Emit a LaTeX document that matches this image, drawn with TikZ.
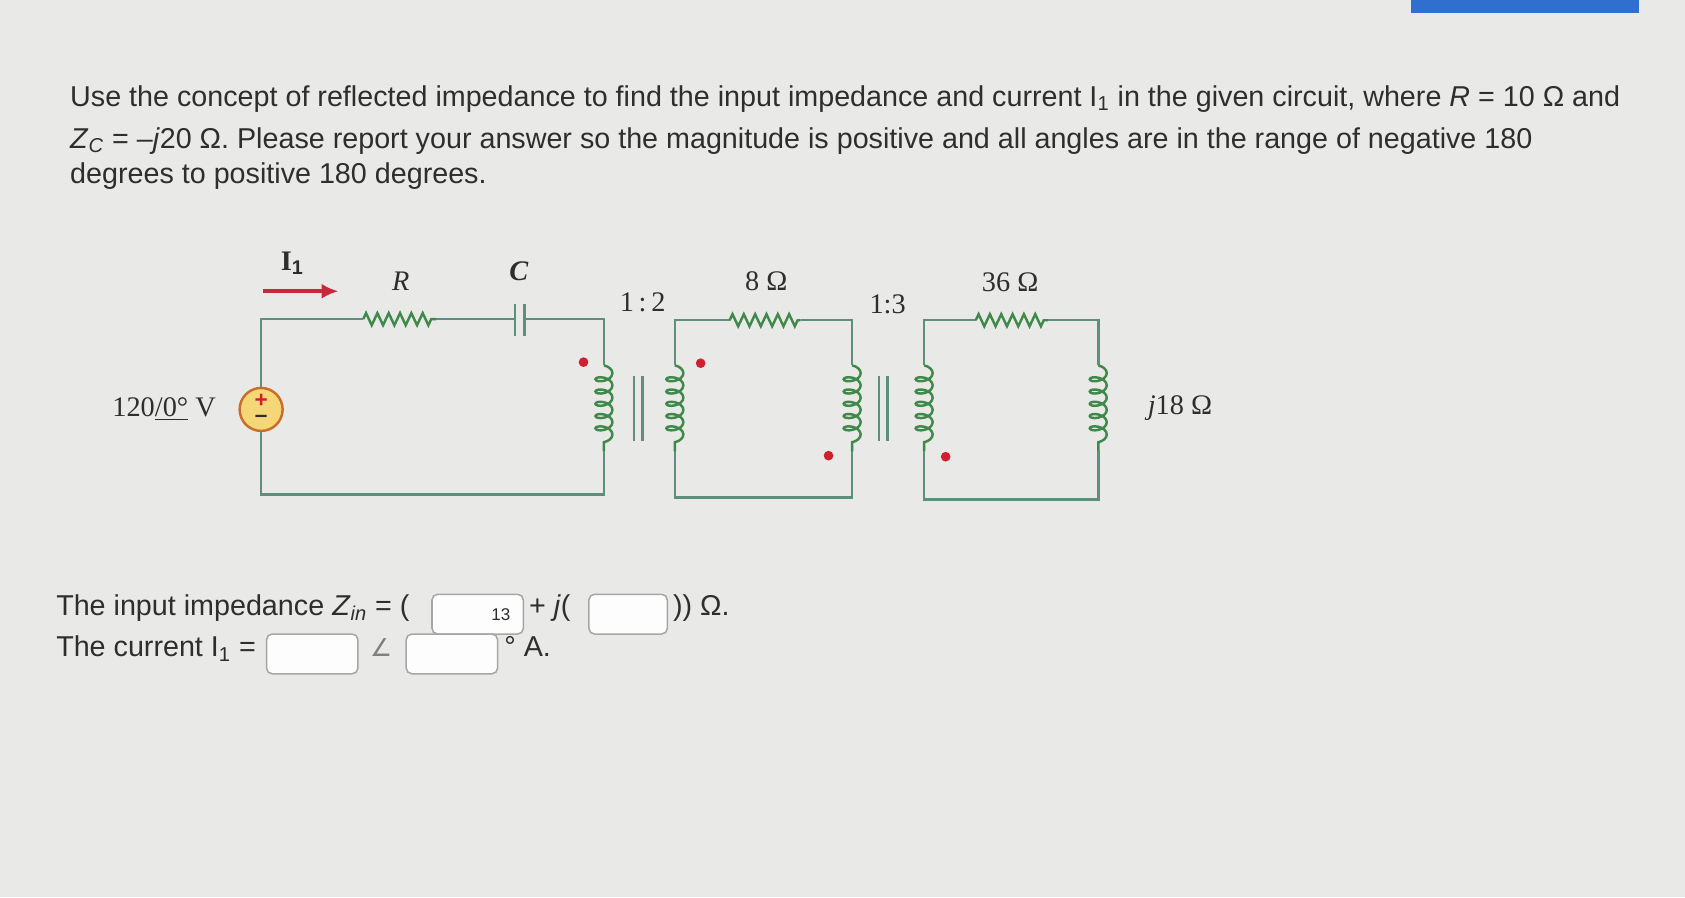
\documentclass[tikz,border=0pt]{standalone}
\usepackage{fontspec}
\setmainfont{Liberation Sans}
\newfontfamily\serifc{Liberation Serif}
\newfontfamily\djv{DejaVu Sans}
\usetikzlibrary{decorations.pathmorphing,arrows.meta}
\definecolor{bg}{HTML}{E9E9E7}
\definecolor{wire}{HTML}{5E8F7E}
\definecolor{grn}{HTML}{3F8A4A}
\definecolor{txt}{HTML}{2E2E2E}
\definecolor{dotc}{HTML}{D0202E}
\definecolor{barc}{HTML}{2F6FD0}
\definecolor{arrc}{HTML}{C8283C}
\definecolor{srcd}{HTML}{C86E28}
\definecolor{srcf}{HTML}{F5D778}
\tikzset{
 w/.style={draw=wire,line width=1.3pt},
 res/.style={draw=grn,line width=1.3pt,decorate,decoration={zigzag,segment length=6,amplitude=3.2}},
 ind/.style={draw=grn,line width=1.3pt,decorate,decoration={coil,aspect=0.55,segment length=6.5,amplitude=4.5}},
 dotm/.style={circle,fill=dotc,inner sep=0pt,minimum size=0.18cm},
 lab/.style={font=\serifc\fontsize{15}{18}\selectfont,text=txt},
 qt/.style={font=\fontsize{15.2}{18}\selectfont,text=txt,anchor=base west,inner sep=0pt},
 abox/.style={draw=gray!70,line width=0.8pt,rounded corners=3,fill=white!92!bg}
}
\begin{document}
\begin{tikzpicture}[x=0.02cm,y=-0.02cm]
\fill[bg] (0,0) rectangle (1568,835);
\useasboundingbox (0,0) rectangle (1568,835);
\fill[barc] (1313,0) rectangle (1525,12);
% question text
\node[qt] (q1) at (65,99) {Use the concept of reflected impedance to find the input impedance and current I\textsubscript{1} in the given circuit, where \textit{R} = 10 Ω and};
\node[qt] (q2) at (65,138) {\textit{Z}\textsubscript{\textit{C}} = –\textit{j}20 Ω. Please report your answer so the magnitude is positive and all angles are in the range of negative 180};
\node[qt] (q3) at (65,171) {degrees to positive 180 degrees.};
% loop 1
\coordinate (s) at (243,381);
\coordinate (a1) at (243,297); \coordinate (b1) at (562,297);
\coordinate (c1) at (562,460); \coordinate (d1) at (243,460);
\draw[w] (s) -- (a1) -- (338,297);
\draw[res] (338,297) -- (406,297);
\draw[w] (406,297) -- (479,297) (479,283) -- (479,313) (488,283) -- (488,313) (488,297) -- (b1) -- (562,340);
\draw[ind] (562,340) -- (562,420);
\draw[w] (562,420) -- (c1) -- (d1) -- (s);
\node[circle,draw=srcd,line width=1.3pt,fill=srcf,minimum size=0.8cm,inner sep=0pt] (src) at (s) {};
\node[text=dotc,font=\bfseries\fontsize{12}{12}\selectfont] at (243,373) {+};
\node[text=txt,font=\bfseries\fontsize{12}{12}\selectfont] at (243,390) {–};
\node[lab,anchor=east] (vl) at (207,381) {120\underline{/0°} V};
\draw[-{Latex[length=9,width=8]},draw=arrc,fill=arrc,line width=2pt] (245,271) -- (315,271);
\node[lab] (i1) at (272,245) {\textbf{I}$_{\mathbf 1}$};
\node[lab] (rl) at (373,262) {\textit{R}};
\node[lab] (cl) at (483,252) {\textbf{\textit{C}}};
% transformer 1
\node[dotm] at (543,337) {}; \node[dotm] at (652,338) {};
\draw[w] (590,350) -- (590,410) (598,350) -- (598,410);
\node[lab] (t1) at (598,281) {1\,:\,2};
% loop 2
\draw[w] (628,420) -- (628,463) -- (793,463) -- (793,420);
\draw[ind] (628,340) -- (628,420);
\draw[ind] (793,340) -- (793,420);
\draw[w] (628,340) -- (628,298) -- (679,298);
\draw[res] (679,298) -- (745,298);
\draw[w] (745,298) -- (793,298) -- (793,340);
\node[lab] (l8) at (713,262) {8 Ω};
% transformer 2
\node[dotm] at (771,424) {}; \node[dotm] at (880,425) {};
\draw[w] (818,350) -- (818,410) (826,350) -- (826,410);
\node[lab] (t2) at (826,283) {1:3};
% loop 3
\draw[ind] (860,340) -- (860,420);
\draw[ind] (1022,340) -- (1022,420);
\draw[w] (860,420) -- (860,465) -- (1022,465) -- (1022,420);
\draw[w] (860,340) -- (860,298) -- (908,298);
\draw[res] (908,298) -- (975,298);
\draw[w] (975,298) -- (1022,298) -- (1022,340);
\node[lab] (l36) at (940,263) {36 Ω};
\node[lab] (lj) at (1098,380) {\textit{j}18 Ω};
% answers
\node[qt] (z1) at (52,573) {The input impedance \textit{Z}\textsubscript{\textit{in}} = (};
\draw[abox] (402,553) rectangle (487,590);
\node[font=\fontsize{9}{10}\selectfont,text=txt] (v13) at (466,572) {13};
\node[qt] (z2) at (492,573) {+ \textit{j}(};
\draw[abox] (548,553) rectangle (621,590);
\node[qt] (z3) at (626,573) {)) Ω.};
\node[qt] (c1t) at (52,611) {The current I\textsubscript{1} =};
\draw[abox] (248,590) rectangle (333,627);
\node[qt,text=gray,font=\djv\fontsize{13}{15}\selectfont] (ang) at (344,611) {∠};
\draw[abox] (378,590) rectangle (463,627);
\node[qt] (c2t) at (469,611) {° A.};
\end{tikzpicture}
\end{document}
